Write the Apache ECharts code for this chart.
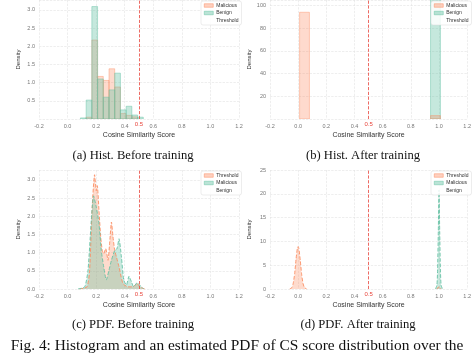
<!DOCTYPE html>
<html>
<head>
<meta charset="utf-8">
<script src="https://cdn.jsdelivr.net/npm/echarts@6/dist/echarts.min.js"></script>
<style>
    html, body { margin: 0; padding: 0; background: #fff; }
    #eChartTableShow { width: 474px; height: 353px; }
</style>
</head>
<body>
<div id="eChartTableShow"></div>
<script>
// (a) 训练前直方图 —— 每个柱子的左右边界和高度
var histEdgesA = [0.09, 0.13, 0.17, 0.21, 0.25, 0.29, 0.33, 0.37, 0.41, 0.45, 0.49, 0.53];
var maliciousHistA = [0, 0.05, 2.17, 1.17, 1.06, 1.38, 0.88, 0.15, 0.10, 0.06, 0];
var benignHistA = [0.03, 0.52, 3.09, 1.10, 0.60, 0.80, 1.26, 0.25, 0.35, 0.11, 0.05];

// (b) 训练后直方图
var binStartB = [0.01, 0.94];
var binEndB = [0.08, 1.01];
var maliciousHistB = [94, 3];
var benignHistB = [0, 140];

// (c) 训练前 PDF
var pdfXC1 = [0.084, 0.136, 0.154, 0.173, 0.189, 0.201, 0.208, 0.220, 0.232, 0.243, 0.253, 0.267, 0.283, 0.295, 0.307, 0.318, 0.330, 0.342, 0.360, 0.388, 0.423, 0.458, 0.486, 0.505, 0.540];
var pdfYC1 = [0, 0.06, 0.50, 2.30, 3.14, 2.70, 2.84, 2.15, 1.43, 1.06, 0.97, 1.11, 0.79, 1.29, 1.84, 1.43, 1.06, 0.88, 0.61, 0.15, 0.06, 0.06, 0.15, 0.06, 0];
var pdfXC2 = [0.073, 0.120, 0.143, 0.166, 0.182, 0.201, 0.220, 0.236, 0.253, 0.271, 0.290, 0.307, 0.330, 0.346, 0.360, 0.377, 0.393, 0.412, 0.430, 0.447, 0.463, 0.486, 0.505, 0.533];
var pdfYC2 = [0, 0.06, 0.52, 1.88, 2.56, 2.25, 1.79, 1.06, 0.61, 0.25, 0.52, 0.79, 1.06, 1.11, 1.38, 0.88, 0.25, 0.11, 0.35, 0.20, 0.06, 0.17, 0.11, 0];

// (d) 训练后 PDF
var pdfXD1 = [-0.060, -0.045, -0.035, -0.025, -0.015, -0.005, 0.000, 0.005, 0.015, 0.025, 0.035, 0.045, 0.060];
var pdfYD1 = [0, 0.3, 1.2, 3.2, 6.3, 8.7, 8.9, 8.5, 6.0, 3.0, 1.1, 0.3, 0];
var pdfXD3 = [0.985, 1.000, 1.015];
var pdfYD3 = [0, 0.5, 0];
var pdfXD2 = [0.975, 0.985, 0.990, 0.995, 1.000, 1.005, 1.010, 1.015, 1.025];
var pdfYD2 = [0, 0.8, 4, 12, 20.8, 12, 4, 0.8, 0];

// 阈值
var thresholdValue = 0.5;

var chartPage = {
    orange: '#fc8d62',
    teal: '#66c2a5',
    red: '#e8453c',
    init: function () {
        chartPage.initEChart();
    },
    binRows: function (starts, ends, heights) {
        var rows = [];
        for (var i = 0; i < heights.length; i++) {
            rows.push([starts[i], ends[i], heights[i]]);
        }
        return rows;
    },
    pointRows: function (xs, ys) {
        var rows = [];
        for (var i = 0; i < xs.length; i++) {
            rows.push([xs[i], ys[i]]);
        }
        return rows;
    },
    // 直方图的柱子用 custom 系列画
    binRenderer: function (fill, stroke) {
        return function (params, api) {
            var h = api.value(2);
            if (h <= 0) {
                return null;
            }
            var p0 = api.coord([api.value(0), h]);
            var p1 = api.coord([api.value(1), 0]);
            return {
                type: 'rect',
                shape: { x: p0[0], y: p0[1], width: p1[0] - p0[0], height: p1[1] - p0[1] },
                style: { fill: fill, stroke: stroke, lineWidth: 0.7 }
            };
        };
    },
    xAxisFor: function (gi) {
        return {
            type: 'value',
            gridIndex: gi,
            min: -0.2,
            max: 1.2,
            interval: 0.2,
            name: 'Cosine Similarity Score',
            nameLocation: 'middle',
            nameGap: 13,
            nameTextStyle: { fontSize: 7, color: '#333', fontFamily: 'Liberation Sans' },
            axisLine: { show: false },
            axisTick: { show: false },
            axisLabel: {
                fontSize: 5.5,
                color: '#777',
                margin: 4,
                fontFamily: 'Liberation Sans',
                formatter: function (v) { return v.toFixed(1); }
            },
            splitLine: { show: true, lineStyle: { color: '#e2e2e2', type: 'dashed', width: 0.6 } }
        };
    },
    yAxisFor: function (gi, max, interval, digits, showZero, showTop) {
        return {
            type: 'value',
            gridIndex: gi,
            min: 0,
            max: max,
            interval: interval,
            name: 'Density',
            nameLocation: 'middle',
            nameGap: 18,
            nameTextStyle: { fontSize: 6, color: '#333', fontFamily: 'Liberation Sans' },
            axisLine: { show: false },
            axisTick: { show: false },
            axisLabel: {
                fontSize: 5.5,
                color: '#777',
                margin: 4,
                fontFamily: 'Liberation Sans',
                showMinLabel: showZero,
                showMaxLabel: showTop,
                formatter: function (v) { return v.toFixed(digits); }
            },
            splitLine: { show: true, lineStyle: { color: '#e2e2e2', type: 'dashed', width: 0.6 } }
        };
    },
    // 红色阈值线，标签放在 x 轴下方
    thresholdSeries: function (name, gi) {
        return {
            name: name,
            type: 'line',
            xAxisIndex: gi,
            yAxisIndex: gi,
            data: [],
            z: 5,
            markLine: {
                silent: true,
                symbol: 'none',
                animation: false,
                lineStyle: { color: chartPage.red, type: 'dashed', width: 0.8 },
                label: {
                    position: 'start',
                    formatter: String(thresholdValue),
                    color: chartPage.red,
                    fontSize: 6,
                    distance: 2,
                    fontFamily: 'Liberation Sans'
                },
                data: [{ xAxis: thresholdValue }]
            }
        };
    },
    pdfSeries: function (name, gi, xs, ys, color, fill) {
        return {
            name: name,
            type: 'line',
            xAxisIndex: gi,
            yAxisIndex: gi,
            data: chartPage.pointRows(xs, ys),
            showSymbol: false,
            smooth: 0.2,
            lineStyle: { color: color, type: 'dashed', width: 0.9 },
            itemStyle: { color: color },
            areaStyle: { color: fill, origin: 0 }
        };
    },
    legendFor: function (left, top, items) {
        return {
            left: left,
            top: top,
            orient: 'vertical',
            itemWidth: 9,
            itemHeight: 3.5,
            itemGap: 2.5,
            padding: [2, 3, 2, 3],
            backgroundColor: 'rgba(255,255,255,0.85)',
            borderColor: '#d8d8d8',
            borderWidth: 0.5,
            borderRadius: 2,
            selectedMode: false,
            textStyle: { fontSize: 5, color: '#333', fontFamily: 'Liberation Sans', padding: [0, 0, 0, -2] },
            data: items
        };
    },
    initEChart: function () {
        var myChart = echarts.init(document.getElementById('eChartTableShow'));
        var o = chartPage.orange, t = chartPage.teal;
        var histFillO = 'rgba(252,141,98,0.32)', histEdgeO = 'rgba(252,141,98,0.6)';
        var histFillT = 'rgba(102,194,165,0.38)', histEdgeT = 'rgba(102,194,165,0.65)';
        var pdfFillO = 'rgba(252,141,98,0.45)', pdfFillT = 'rgba(102,194,165,0.5)';

        var styleO = { color: 'rgba(252,141,98,0.4)', borderColor: o, borderWidth: 0.5 };
        var styleT = { color: 'rgba(102,194,165,0.45)', borderColor: t, borderWidth: 0.5 };
        var styleNone = { color: 'rgba(0,0,0,0)', borderWidth: 0 };
        function item(style, name) {
            return { name: name, icon: 'rect', itemStyle: style };
        }
        var legendHist = [item(styleO, 'Malicious'), item(styleT, 'Benign'), item(styleNone, 'Threshold')];
        var legendPdf = [item(styleO, 'Threshold'), item(styleT, 'Malicious'), item(styleNone, 'Benign')];

        var captionStyle = { fontSize: 12.6, fontWeight: 'normal', color: '#111', fontFamily: 'Liberation Serif' };
        function caption(text, x, y, size) {
            var style = Object.assign({}, captionStyle);
            if (size) { style.fontSize = size; }
            return { text: text, left: x, top: y, textAlign: 'center', textVerticalAlign: 'middle', padding: 0, textStyle: style };
        }

        var option = {
            animation: false,
            backgroundColor: '#fff',
            title: [
                caption('(a) Hist. Before training', 133, 156),
                caption('(b) Hist. After training', 363, 156),
                caption('(c) PDF. Before training', 133, 325),
                caption('(d) PDF. After training', 358, 325),
                caption('Fig. 4: Histogram and an estimated PDF of CS score distribution over the', 237, 346, 15.4)
            ],
            legend: [
                chartPage.legendFor(201, 1, legendHist),
                chartPage.legendFor(431, 1, legendHist),
                chartPage.legendFor(201, 171, legendPdf),
                chartPage.legendFor(431, 171, legendPdf)
            ],
            grid: [
                { left: 39, top: 0, width: 200, height: 119 },
                { left: 270, top: 0, width: 200, height: 119 },
                { left: 39, top: 170, width: 200, height: 119 },
                { left: 270, top: 170, width: 200, height: 119 }
            ],
            xAxis: [chartPage.xAxisFor(0), chartPage.xAxisFor(1), chartPage.xAxisFor(2), chartPage.xAxisFor(3)],
            yAxis: [
                chartPage.yAxisFor(0, 3.27, 0.5, 1, false, false),
                chartPage.yAxisFor(1, 104.8, 20, 0, false, false),
                chartPage.yAxisFor(2, 3.27, 0.5, 1, true, false),
                chartPage.yAxisFor(3, 25, 5, 0, true, true)
            ],
            series: [
                // (a)
                {
                    name: 'Malicious', type: 'custom', xAxisIndex: 0, yAxisIndex: 0, clip: true,
                    renderItem: chartPage.binRenderer(histFillO, histEdgeO),
                    encode: { x: [0, 1], y: 2 },
                    data: chartPage.binRows(histEdgesA.slice(0, -1), histEdgesA.slice(1), maliciousHistA)
                },
                {
                    name: 'Benign', type: 'custom', xAxisIndex: 0, yAxisIndex: 0, clip: true,
                    renderItem: chartPage.binRenderer(histFillT, histEdgeT),
                    encode: { x: [0, 1], y: 2 },
                    data: chartPage.binRows(histEdgesA.slice(0, -1), histEdgesA.slice(1), benignHistA)
                },
                chartPage.thresholdSeries('Threshold', 0),
                // (b)
                {
                    name: 'Benign', type: 'custom', xAxisIndex: 1, yAxisIndex: 1, clip: true,
                    renderItem: chartPage.binRenderer(histFillT, histEdgeT),
                    encode: { x: [0, 1], y: 2 },
                    data: chartPage.binRows(binStartB, binEndB, benignHistB)
                },
                {
                    name: 'Malicious', type: 'custom', xAxisIndex: 1, yAxisIndex: 1, clip: true,
                    renderItem: chartPage.binRenderer(histFillO, histEdgeO),
                    encode: { x: [0, 1], y: 2 },
                    data: chartPage.binRows(binStartB, binEndB, maliciousHistB)
                },
                chartPage.thresholdSeries('Threshold', 1),
                // (c)
                chartPage.pdfSeries('Threshold', 2, pdfXC1, pdfYC1, o, pdfFillO),
                chartPage.pdfSeries('Malicious', 2, pdfXC2, pdfYC2, t, pdfFillT),
                chartPage.thresholdSeries('Benign', 2),
                // (d)
                chartPage.pdfSeries('Threshold', 3, pdfXD1, pdfYD1, o, pdfFillO),
                chartPage.pdfSeries('Threshold', 3, pdfXD3, pdfYD3, o, pdfFillO),
                chartPage.pdfSeries('Malicious', 3, pdfXD2, pdfYD2, t, pdfFillT),
                chartPage.thresholdSeries('Benign', 3)
            ]
        };
        myChart.setOption(option);
    }
};

chartPage.init();
</script>
</body>
</html>
